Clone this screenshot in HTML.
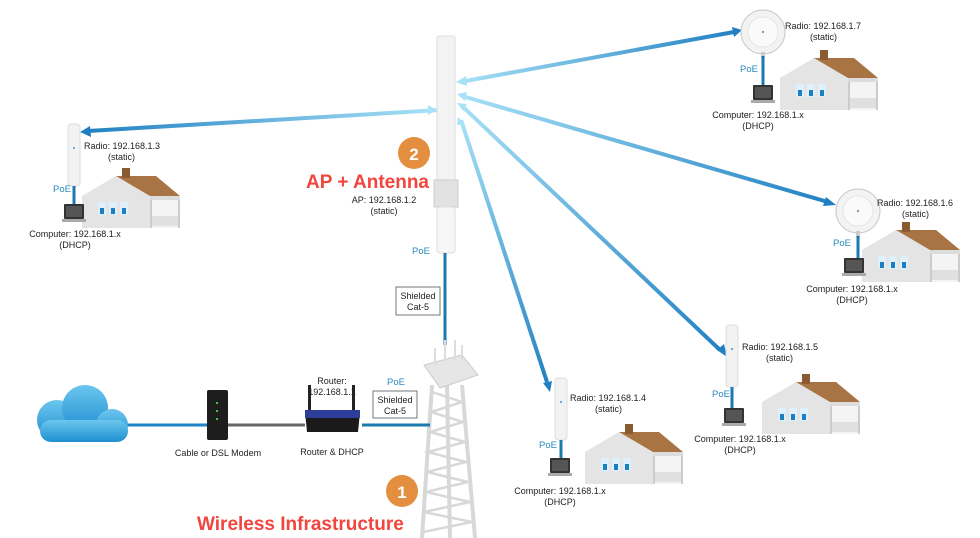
<!DOCTYPE html>
<html><head><meta charset="utf-8"><style>
html,body{margin:0;padding:0;background:#fff}
svg{display:block}
text{font-family:"Liberation Sans",sans-serif;font-size:9px;fill:#222}
.poe{fill:#2a8ac0;font-size:9.5px}
.big{fill:#f2453d;font-weight:bold;font-size:19px}
</style></head><body>
<svg width="980" height="538" viewBox="0 0 980 538" xmlns="http://www.w3.org/2000/svg">
<defs>
<g id="house">
  <polygon points="0,24 34,4 68,24 68,56 0,56" fill="#e4e4e4"/>
  <polygon points="34,4 74,4 98,24 68,24" fill="#a87444"/>
  <rect x="40" y="-4" width="8" height="10" fill="#8a5a30"/>
  <rect x="68" y="24" width="30" height="32" fill="#f4f4f4"/>
  <rect x="68" y="24" width="30" height="4" fill="#dcdcdc"/>
  <rect x="70" y="44" width="26" height="10" fill="#e0e0e0"/>
  <rect x="68" y="28" width="2" height="28" fill="#ccc"/><rect x="96" y="28" width="2" height="28" fill="#ccc"/>
  <rect x="16" y="30" width="8" height="13" fill="#dff0fa"/>
  <rect x="27" y="30" width="8" height="13" fill="#dff0fa"/>
  <rect x="38" y="30" width="8" height="13" fill="#dff0fa"/>
  <rect x="18" y="36" width="4" height="6" fill="#1b7fc4"/>
  <rect x="29" y="36" width="4" height="6" fill="#1b7fc4"/>
  <rect x="40" y="36" width="4" height="6" fill="#1b7fc4"/>
</g>
<g id="laptop">
  <rect x="2" y="0" width="20" height="15" rx="1" fill="#333"/>
  <rect x="4" y="2" width="16" height="11" fill="#555"/>
  <rect x="0" y="15" width="24" height="3" fill="#aaa"/>
</g>
<g id="radio">
  <rect x="0" y="0" width="12" height="62" rx="3" fill="#f2f2f2" stroke="#ddd" stroke-width="1"/>
  <circle cx="6" cy="24" r="1" fill="#4a90d0"/>
</g>
<g id="dish">
  <circle cx="0" cy="0" r="22" fill="#f3f3f3" stroke="#c8c8c8"/>
  <circle cx="0" cy="0" r="15" fill="#fafafa" stroke="#e6e6e6"/>
  <circle cx="0" cy="0" r="1.2" fill="#999"/>
  <rect x="-2" y="20" width="4" height="6" fill="#ccc"/>
</g>
<linearGradient id="g1" gradientUnits="userSpaceOnUse" x1="437" y1="110" x2="80" y2="132"><stop offset="0" stop-color="#a9e2f7"/><stop offset="1" stop-color="#1f7fc2"/></linearGradient>
<linearGradient id="g2" gradientUnits="userSpaceOnUse" x1="456" y1="82" x2="742" y2="30"><stop offset="0" stop-color="#a9e2f7"/><stop offset="1" stop-color="#1f7fc2"/></linearGradient>
<linearGradient id="g3" gradientUnits="userSpaceOnUse" x1="458" y1="95" x2="836" y2="205"><stop offset="0" stop-color="#a9e2f7"/><stop offset="1" stop-color="#1f7fc2"/></linearGradient>
<linearGradient id="g4" gradientUnits="userSpaceOnUse" x1="458" y1="104" x2="726" y2="355"><stop offset="0" stop-color="#a9e2f7"/><stop offset="1" stop-color="#1f7fc2"/></linearGradient>
<linearGradient id="g5" gradientUnits="userSpaceOnUse" x1="458" y1="118" x2="550" y2="390"><stop offset="0" stop-color="#a9e2f7"/><stop offset="1" stop-color="#1f7fc2"/></linearGradient>
<linearGradient id="cl" x1="0" y1="0" x2="0" y2="1"><stop offset="0" stop-color="#6cc6ee"/><stop offset="1" stop-color="#1e8fd0"/></linearGradient>
</defs>

<g stroke-width="4" fill="none">
<line x1="440" y1="110" x2="88" y2="131" stroke="url(#g1)"/>
<line x1="460" y1="82" x2="734" y2="32" stroke="url(#g2)"/>
<line x1="462" y1="96" x2="828" y2="202" stroke="url(#g3)"/>
<line x1="462" y1="106" x2="720" y2="350" stroke="url(#g4)"/>
<line x1="461" y1="120" x2="547" y2="382" stroke="url(#g5)"/>
</g>
<g>
<polygon points="80,132 90,126 91,137" fill="#1f7fc2"/>
<polygon points="742,30 732,27 734,37" fill="#1f7fc2"/>
<polygon points="836,205 826,197 823,206" fill="#1f7fc2"/>
<polygon points="727,357 717,350 724,344" fill="#1f7fc2"/>
<polygon points="550,392 543,383 552,381" fill="#1f7fc2"/>
<polygon points="437,110 428,105 428,115" fill="#a9e2f7"/>
<polygon points="456,82 466,76 467,86" fill="#a9e2f7"/>
<polygon points="457,94 467,92 465,101" fill="#a9e2f7"/>
<polygon points="457,103 467,104 463,111" fill="#a9e2f7"/>
<polygon points="458,117 465,124 457,125" fill="#a9e2f7"/>
</g>

<rect x="437" y="36" width="18" height="148" rx="2" fill="#f3f3f3" stroke="#ddd"/>
<rect x="434" y="180" width="24" height="27" fill="#e2e2e2" stroke="#ccc"/>
<rect x="437" y="207" width="18" height="46" rx="3" fill="#f7f7f7" stroke="#ddd"/>
<line x1="445" y1="253" x2="445" y2="345" stroke="#1c78b0" stroke-width="3"/>
<text x="412" y="254" class="poe">PoE</text>
<rect x="396" y="287" width="44" height="28" fill="#fff" stroke="#555" stroke-width="0.8"/>
<text x="418" y="299" text-anchor="middle">Shielded</text>
<text x="418" y="310" text-anchor="middle">Cat-5</text>
<circle cx="414" cy="153" r="16" fill="#e38f3f"/>
<text x="414" y="160" text-anchor="middle" style="fill:#fff;font-weight:bold;font-size:17px">2</text>
<text x="306" y="188" class="big">AP + Antenna</text>
<text x="384" y="203" text-anchor="middle">AP: 192.168.1.2</text>
<text x="384" y="214" text-anchor="middle">(static)</text>

<g fill="none" stroke="#d8d8d8" stroke-width="4">
<line x1="432" y1="385" x2="422" y2="538"/><line x1="462" y1="385" x2="475" y2="538"/>
<line x1="447" y1="385" x2="450" y2="538"/>
<path d="M432,392 L462,402 L431,412 L463,422 L430,432 L465,442 L428,452 L466,462 L427,472 L468,482 L426,492 L470,502 L424,512 L472,522 L423,532" stroke-width="2.5"/>
</g>
<polygon points="424,365 462,355 478,375 440,388" fill="#e6e6e6" stroke="#ccc"/>
<g stroke="#ddd" stroke-width="2"><line x1="445" y1="340" x2="445" y2="362"/><line x1="455" y1="340" x2="455" y2="360"/><line x1="462" y1="345" x2="462" y2="360"/><line x1="435" y1="348" x2="435" y2="365"/></g>
<circle cx="402" cy="491" r="16" fill="#e38f3f"/>
<text x="402" y="498" text-anchor="middle" style="fill:#fff;font-weight:bold;font-size:17px">1</text>
<text x="197" y="530" class="big">Wireless Infrastructure</text>

<line x1="125" y1="425" x2="207" y2="425" stroke="#1c84c6" stroke-width="3"/>
<line x1="228" y1="425" x2="305" y2="425" stroke="#666" stroke-width="3"/>
<line x1="362" y1="425" x2="430" y2="425" stroke="#1c78b0" stroke-width="3"/>
<g fill="url(#cl)"><circle cx="57" cy="420" r="20"/><circle cx="85" cy="408" r="23"/><circle cx="112" cy="425" r="16"/><rect x="40" y="420" width="88" height="22" rx="11"/></g>
<rect x="207" y="390" width="21" height="50" rx="2" fill="#1d1d1d"/>
<g fill="#3c3"><rect x="216" y="402" width="2" height="2"/><rect x="216" y="410" width="2" height="2"/><rect x="216" y="418" width="2" height="2"/></g>
<text x="218" y="456" text-anchor="middle">Cable or DSL Modem</text>
<rect x="308" y="385" width="3" height="28" fill="#222"/><rect x="352" y="385" width="3" height="28" fill="#222"/>
<polygon points="305,412 360,412 358,432 307,432" fill="#1a1a1a"/>
<rect x="305" y="410" width="55" height="8" fill="#2d3d9a"/>
<text x="332" y="384" text-anchor="middle">Router:</text>
<text x="332" y="395" text-anchor="middle">192.168.1.1</text>
<text x="332" y="455" text-anchor="middle">Router &amp; DHCP</text>
<text x="387" y="385" class="poe">PoE</text>
<rect x="373" y="391" width="44" height="27" fill="#fff" stroke="#555" stroke-width="0.8"/>
<text x="395" y="403" text-anchor="middle">Shielded</text>
<text x="395" y="414" text-anchor="middle">Cat-5</text>

<use href="#radio" x="68" y="124"/>
<line x1="74" y1="186" x2="74" y2="205" stroke="#1c78b0" stroke-width="3"/>
<use href="#house" x="82" y="172"/>
<use href="#laptop" x="62" y="204"/>
<text x="84" y="149">Radio: 192.168.1.3</text>
<text x="108" y="160">(static)</text>
<text x="53" y="192" class="poe">PoE</text>
<text x="75" y="237" text-anchor="middle">Computer: 192.168.1.x</text>
<text x="75" y="248" text-anchor="middle">(DHCP)</text>

<use href="#dish" x="763" y="32"/>
<line x1="763" y1="56" x2="763" y2="86" stroke="#1c78b0" stroke-width="3"/>
<use href="#house" x="780" y="54"/>
<use href="#laptop" x="751" y="85"/>
<text x="785" y="29">Radio: 192.168.1.7</text>
<text x="810" y="40">(static)</text>
<text x="740" y="72" class="poe">PoE</text>
<text x="758" y="118" text-anchor="middle">Computer: 192.168.1.x</text>
<text x="758" y="129" text-anchor="middle">(DHCP)</text>

<use href="#dish" x="858" y="211"/>
<line x1="858" y1="236" x2="858" y2="260" stroke="#1c78b0" stroke-width="3"/>
<use href="#house" x="862" y="226"/>
<use href="#laptop" x="842" y="258"/>
<text x="877" y="206">Radio: 192.168.1.6</text>
<text x="902" y="217">(static)</text>
<text x="833" y="246" class="poe">PoE</text>
<text x="852" y="292" text-anchor="middle">Computer: 192.168.1.x</text>
<text x="852" y="303" text-anchor="middle">(DHCP)</text>

<use href="#radio" x="726" y="325"/>
<line x1="732" y1="387" x2="732" y2="410" stroke="#1c78b0" stroke-width="3"/>
<use href="#house" x="762" y="378"/>
<use href="#laptop" x="722" y="408"/>
<text x="742" y="350">Radio: 192.168.1.5</text>
<text x="766" y="361">(static)</text>
<text x="712" y="397" class="poe">PoE</text>
<text x="740" y="442" text-anchor="middle">Computer: 192.168.1.x</text>
<text x="740" y="453" text-anchor="middle">(DHCP)</text>

<use href="#radio" x="555" y="378"/>
<line x1="561" y1="440" x2="561" y2="460" stroke="#1c78b0" stroke-width="3"/>
<use href="#house" x="585" y="428"/>
<use href="#laptop" x="548" y="458"/>
<text x="570" y="401">Radio: 192.168.1.4</text>
<text x="595" y="412">(static)</text>
<text x="539" y="448" class="poe">PoE</text>
<text x="560" y="494" text-anchor="middle">Computer: 192.168.1.x</text>
<text x="560" y="505" text-anchor="middle">(DHCP)</text>
</svg>
</body></html>
